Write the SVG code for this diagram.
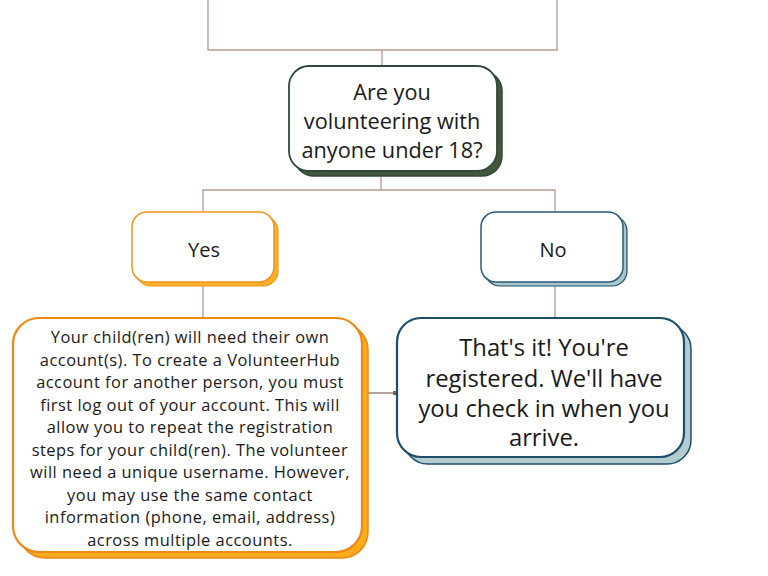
<svg xmlns="http://www.w3.org/2000/svg" width="768" height="576" viewBox="0 0 768 576">
<style>
.ln{fill:none;stroke:#b69a94;stroke-width:1.3}
text{font-family:"Open Sans",Lato,sans-serif;fill:#1a1a1a;text-anchor:middle}
.q{font-size:21.7px}
.yn{font-size:20px}
.d{font-size:16.4px;letter-spacing:0.5px}
.n{font-size:23.8px}
</style>
<defs>
<marker id="sq" markerWidth="4" markerHeight="4" refX="2" refY="2" markerUnits="userSpaceOnUse"><rect x="0" y="0" width="4" height="4" fill="#7a5d58"/></marker>
</defs>
<rect width="768" height="576" fill="#ffffff"/>
<g id="connectors">
<polyline class="ln" points="208,0 208,50 557,50 557,0"/>
<line class="ln" x1="382" y1="50" x2="382" y2="66"/>
<line class="ln" x1="381" y1="171" x2="381" y2="190"/>
<polyline class="ln" points="203,212 203,190 555,190 555,212"/>
<line class="ln" x1="203" y1="283" x2="203" y2="318"/>
<line class="ln" x1="555" y1="283" x2="555" y2="318"/>
<line x1="368" y1="393" x2="395" y2="393" stroke="#8a706b" stroke-width="1.3" marker-end="url(#sq)"/>
</g>
<g id="question">
<rect x="294" y="71" width="208" height="105" rx="20" fill="#44573a" stroke="#2f4a3a" stroke-width="1.5"/>
<rect x="289" y="66" width="208" height="105" rx="20" fill="#ffffff" stroke="#2f4a3a" stroke-width="1.8"/>
<text class="q" x="392" y="100">Are you</text>
<text class="q" x="392" y="129">volunteering with</text>
<text class="q" x="392" y="158">anyone under 18?</text>
</g>
<g id="yes">
<rect x="136" y="216" width="142" height="70" rx="15" fill="#fbb228" stroke="#f0951c" stroke-width="1.2"/>
<rect x="132" y="212" width="142" height="70" rx="15" fill="#ffffff" stroke="#f0951c" stroke-width="1.5"/>
<text class="yn" x="204" y="257">Yes</text>
</g>
<g id="no">
<rect x="485" y="216" width="142" height="70" rx="15" fill="#a9c6ca" stroke="#1f4e6b" stroke-width="1.2"/>
<rect x="481" y="212" width="142" height="70" rx="15" fill="#ffffff" stroke="#2a5b78" stroke-width="1.5"/>
<text class="yn" x="553" y="257">No</text>
</g>
<g id="yes-detail">
<rect x="19" y="324" width="349" height="234" rx="26" fill="#fbac1c" stroke="#e8891a" stroke-width="1.5"/>
<rect x="13" y="318" width="349" height="234" rx="26" fill="#ffffff" stroke="#ec8a17" stroke-width="2.2"/>
<text class="d" x="190" y="343">Your child(ren) will need their own</text>
<text class="d" x="190" y="366">account(s). To create a VolunteerHub</text>
<text class="d" x="190" y="388">account for another person, you must</text>
<text class="d" x="190" y="411">first log out of your account. This will</text>
<text class="d" x="190" y="433">allow you to repeat the registration</text>
<text class="d" x="190" y="456">steps for your child(ren). The volunteer</text>
<text class="d" x="190" y="478">will need a unique username. However,</text>
<text class="d" x="190" y="501">you may use the same contact</text>
<text class="d" x="190" y="523">information (phone, email, address)</text>
<text class="d" x="190" y="546">across multiple accounts.</text>
</g>
<g id="no-detail">
<rect x="404" y="325" width="287" height="139" rx="24" fill="#b3cccf" stroke="#1f4e6b" stroke-width="1.5"/>
<rect x="397" y="318" width="287" height="139" rx="24" fill="#ffffff" stroke="#1f4e6b" stroke-width="2.2"/>
<text class="n" x="544" y="356">That's it! You're</text>
<text class="n" x="544" y="387">registered. We'll have</text>
<text class="n" x="544" y="417">you check in when you</text>
<text class="n" x="544" y="446">arrive.</text>
</g>
</svg>
